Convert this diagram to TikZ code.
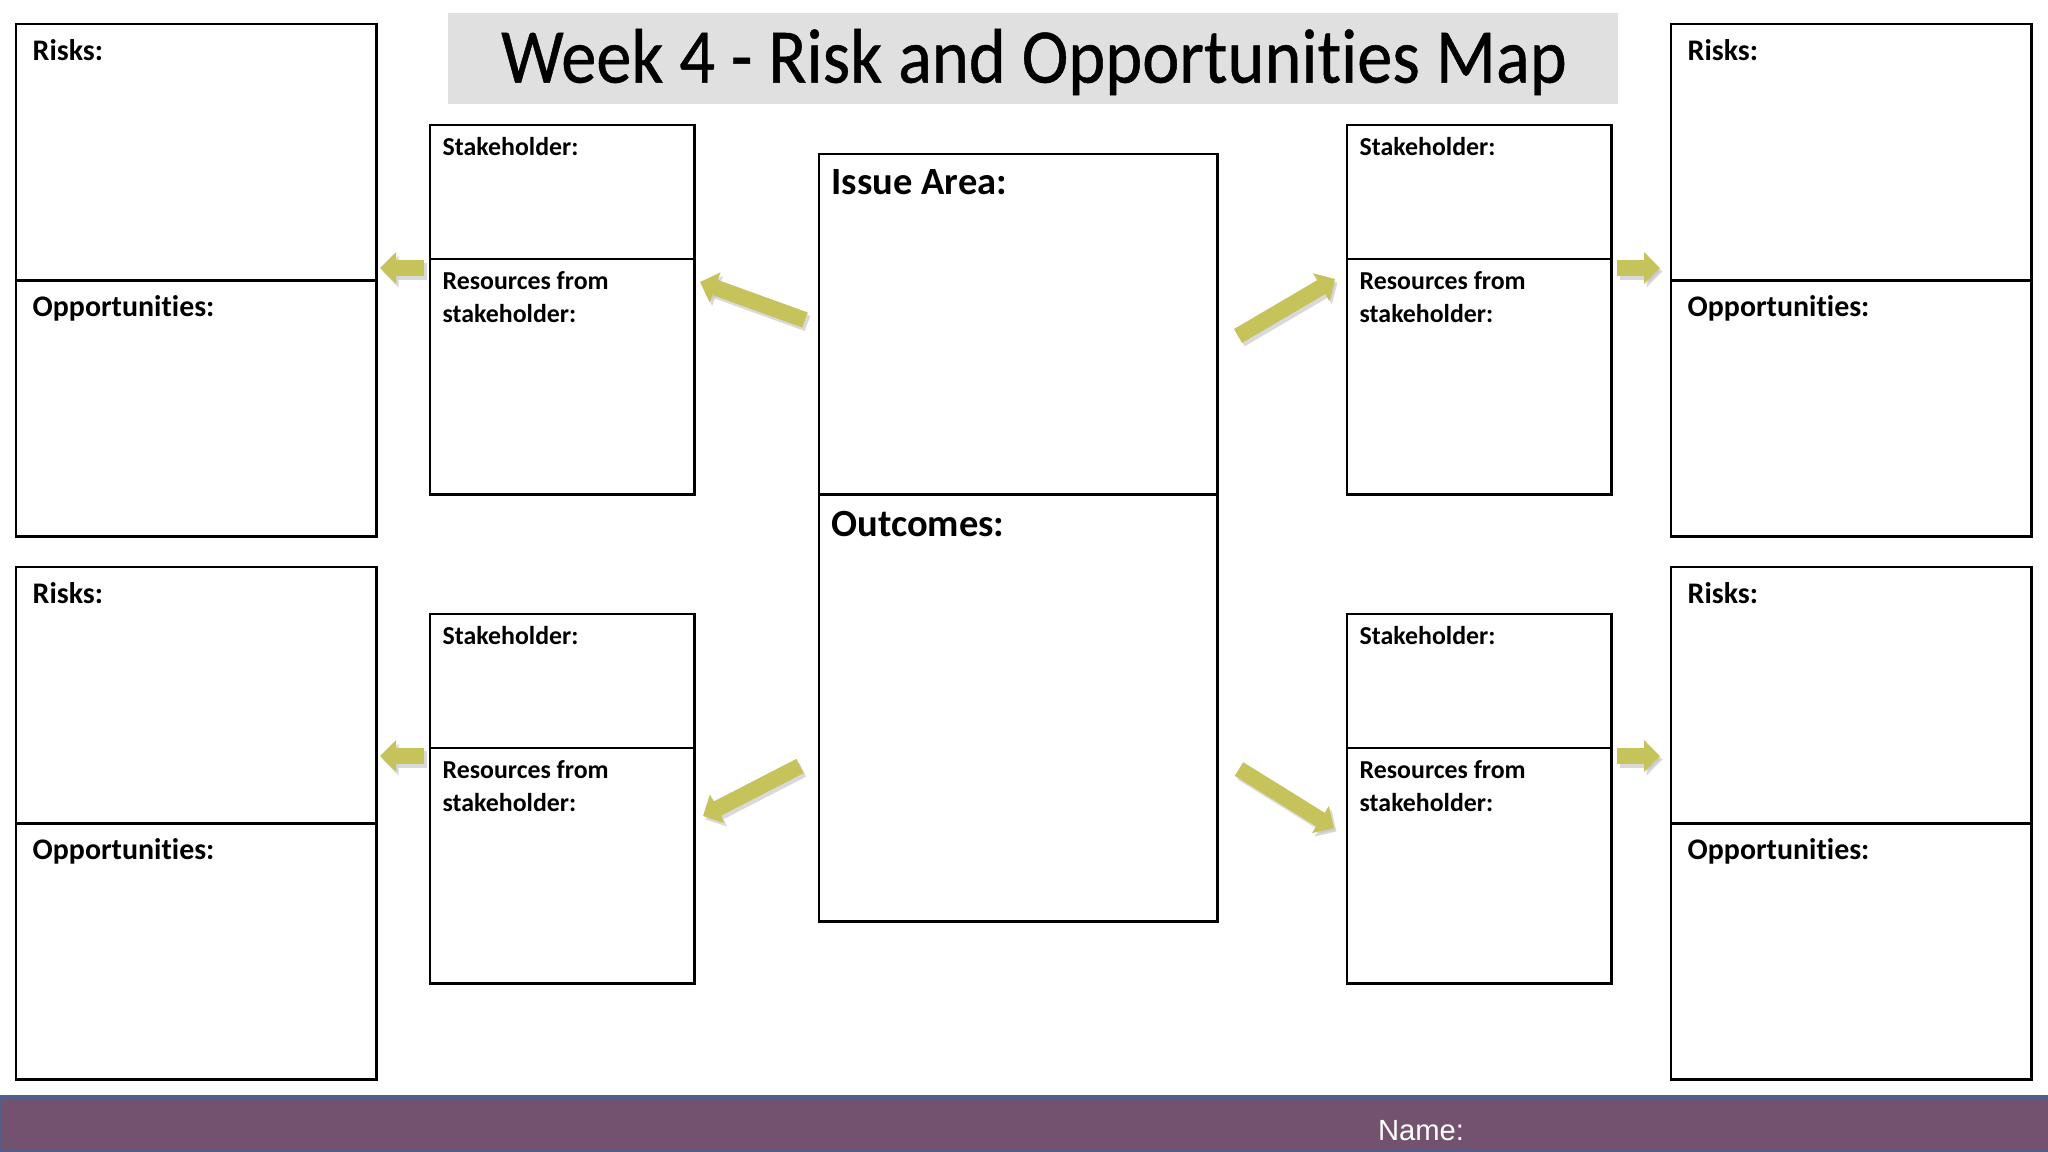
\documentclass[tikz,border=0pt]{standalone}
\usepackage{fontspec}
\setmainfont{Carlito}[Ligatures=NoCommon]
\newfontfamily\namefont{Liberation Sans}
\usetikzlibrary{positioning,arrows.meta}
\definecolor{arrowcol}{RGB}{197,195,90}
\definecolor{barcol}{RGB}{115,82,111}
\definecolor{barline}{RGB}{80,95,140}
\definecolor{titlecol}{RGB}{224,224,224}

\begin{document}
\begin{tikzpicture}[x=0.01cm, y=-0.01cm]
  \tikzstyle{box}=[draw, line width=0.8pt, inner sep=0pt, outer sep=0pt, anchor=north west]
  \tikzstyle{big}=[box, minimum width=3.6cm, minimum height=2.56cm]
  \tikzstyle{holder}=[box, minimum width=2.64cm, minimum height=1.34cm]
  \tikzstyle{res}=[box, minimum width=2.64cm, minimum height=2.35cm]
  \tikzstyle{lbl}=[anchor=north west, inner sep=0pt, align=left, font=\bfseries\fontsize{8.5}{10.5}\selectfont]
  \tikzstyle{small}=[lbl, font=\bfseries\fontsize{7.35}{9.2}\selectfont]
  \tikzstyle{large}=[lbl, font=\bfseries\fontsize{10.95}{13}\selectfont]
  \tikzstyle{flow}=[line width=0.16cm, arrowcol, -{Triangle[width=0.31cm, length=0.16cm]}]
  \tikzstyle{shade}=[flow, black!25, opacity=0.6, transform canvas={xshift=0.025cm, yshift=-0.035cm}]

  \useasboundingbox (0,0) rectangle (2048,1152);

  % title and footer
  \node[fill=titlecol, minimum width=11.7cm, minimum height=0.91cm, inner sep=0pt] (title) at (1033,58.5) {};
  \node (head) at (1034,62)
    {\scalebox{0.91}[1]{\fontsize{22}{26}\selectfont\addfontfeature{FakeBold=0.6}Week 4 - Risk and Opportunities Map}};
  \node[box, draw=barline, fill=barcol, line width=1pt, minimum width=20.48cm, minimum height=0.55cm] (bar) at (0,1097) {};
  \node[text=white, font=\namefont\fontsize{8.3}{10}\selectfont] (name) at (1421,1131) {Name:};

  % risks / opportunities
  \node[big] (rt1) at (16,24)   {};
  \node[big, below=0pt of rt1] (ot1) {};
  \node[big] (rb1) at (16,567)  {};
  \node[big, below=0pt of rb1] (ob1) {};
  \node[big] (rt2) at (1671,24)  {};
  \node[big, below=0pt of rt2] (ot2) {};
  \node[big] (rb2) at (1671,567) {};
  \node[big, below=0pt of rb2] (ob2) {};

  \foreach \b in {rt1,rb1,rt2,rb2}
    \node[lbl] at ([shift={(16,15)}]\b.north west) {Risks:};
  \foreach \b in {ot1,ob1,ot2,ob2}
    \node[lbl] at ([shift={(16,15)}]\b.north west) {Opportunities:};

  % stakeholders
  \node[holder] (s1) at (430,125)  {};
  \node[res, below=0pt of s1] (r1) {};
  \node[holder] (s2) at (430,614)  {};
  \node[res, below=0pt of s2] (r2) {};
  \node[holder] (s3) at (1347,125) {};
  \node[res, below=0pt of s3] (r3) {};
  \node[holder] (s4) at (1347,614) {};
  \node[res, below=0pt of s4] (r4) {};

  \foreach \b in {s1,s2,s3,s4}
    \node[small] at ([shift={(12,12)}]\b.north west) {Stakeholder:};
  \foreach \b in {r1,r2,r3,r4}
    \node[small] at ([shift={(12,12)}]\b.north west) {Resources from\\stakeholder:};

  % issue area
  \node[box, minimum width=3.98cm, minimum height=3.4cm] (issue) at (819,154) {};
  \node[box, minimum width=3.98cm, minimum height=4.27cm, below=0pt of issue] (out) {};
  \node[large] at ([shift={(12,15)}]issue.north west) {Issue Area:};
  \node[large] at ([shift={(12,16)}]out.north west) {Outcomes:};

  % arrows
  \coordinate (a1) at (805,320);  \coordinate (b1) at (700,282);
  \coordinate (a2) at (1238,336); \coordinate (b2) at (1335,279);
  \coordinate (a3) at (800,766);  \coordinate (b3) at (703,816);
  \coordinate (a4) at (1239,769); \coordinate (b4) at (1334,828);
  \coordinate (a5) at (424,268);  \coordinate (b5) at (380,268);
  \coordinate (a6) at (424,756);  \coordinate (b6) at (380,756);
  \coordinate (a7) at (1617,268); \coordinate (b7) at (1660,268);
  \coordinate (a8) at (1617,756); \coordinate (b8) at (1660,756);

  \foreach \i in {1,...,8} {
    \draw[shade] (a\i) -- (b\i);
    \draw[flow] (a\i) -- (b\i);
  }
\end{tikzpicture}
\end{document}
